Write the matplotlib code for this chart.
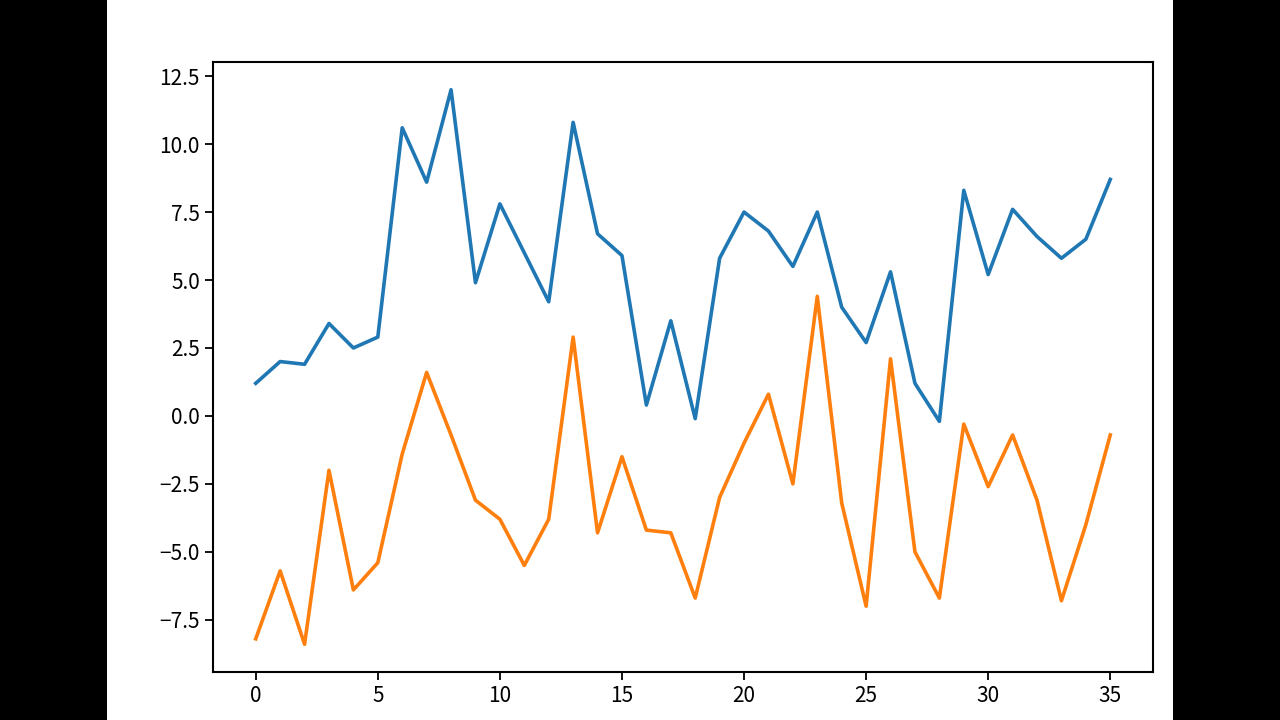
import matplotlib
matplotlib.use("Agg")
import matplotlib.pyplot as plt
from matplotlib.patches import Rectangle

x = list(range(36))
blue = [1.2, 2.0, 1.9, 3.4, 2.5, 2.9, 10.6, 8.6, 12.0, 4.9, 7.8, 6.0, 4.2, 10.8, 6.7, 5.9, 0.4, 3.5,
        -0.1, 5.8, 7.5, 6.8, 5.5, 7.5, 4.0, 2.7, 5.3, 1.2, -0.2, 8.3, 5.2, 7.6, 6.6, 5.8, 6.5, 8.7]
orange = [-8.2, -5.7, -8.4, -2.0, -6.4, -5.4, -1.4, 1.6, -0.7, -3.1, -3.8, -5.5, -3.8, 2.9, -4.3, -1.5,
          -4.2, -4.3, -6.7, -3.0, -1.0, 0.8, -2.5, 4.4, -3.2, -7.0, 2.1, -5.0, -6.7, -0.3, -2.6, -0.7,
          -3.1, -6.8, -4.0, -0.7]

plt.rcParams['font.family'] = ['Noto Sans CJK KR', 'DejaVu Sans']
fig = plt.figure(figsize=(12.8, 7.2), dpi=100, facecolor="white")
# black side bars of the screenshot
for left in (0, 1173 / 1280):
    fig.add_artist(Rectangle((left, 0), 107 / 1280, 1, transform=fig.transFigure,
                             facecolor="black", edgecolor="none"))
ax = fig.add_axes([213 / 1280, 48 / 720, 940 / 1280, 610 / 720])
ax.plot(x, blue, color="#1f77b4", linewidth=2.6)
ax.plot(x, orange, color="#ff7f0e", linewidth=2.6)
ax.set_yticks([-7.5, -5.0, -2.5, 0.0, 2.5, 5.0, 7.5, 10.0, 12.5])
ax.set_xticks([0, 5, 10, 15, 20, 25, 30, 35])
ax.tick_params(labelsize=15, length=6, width=1.3)
for s in ax.spines.values():
    s.set_linewidth(1.5)
fig.savefig("out.png", facecolor=fig.get_facecolor())
